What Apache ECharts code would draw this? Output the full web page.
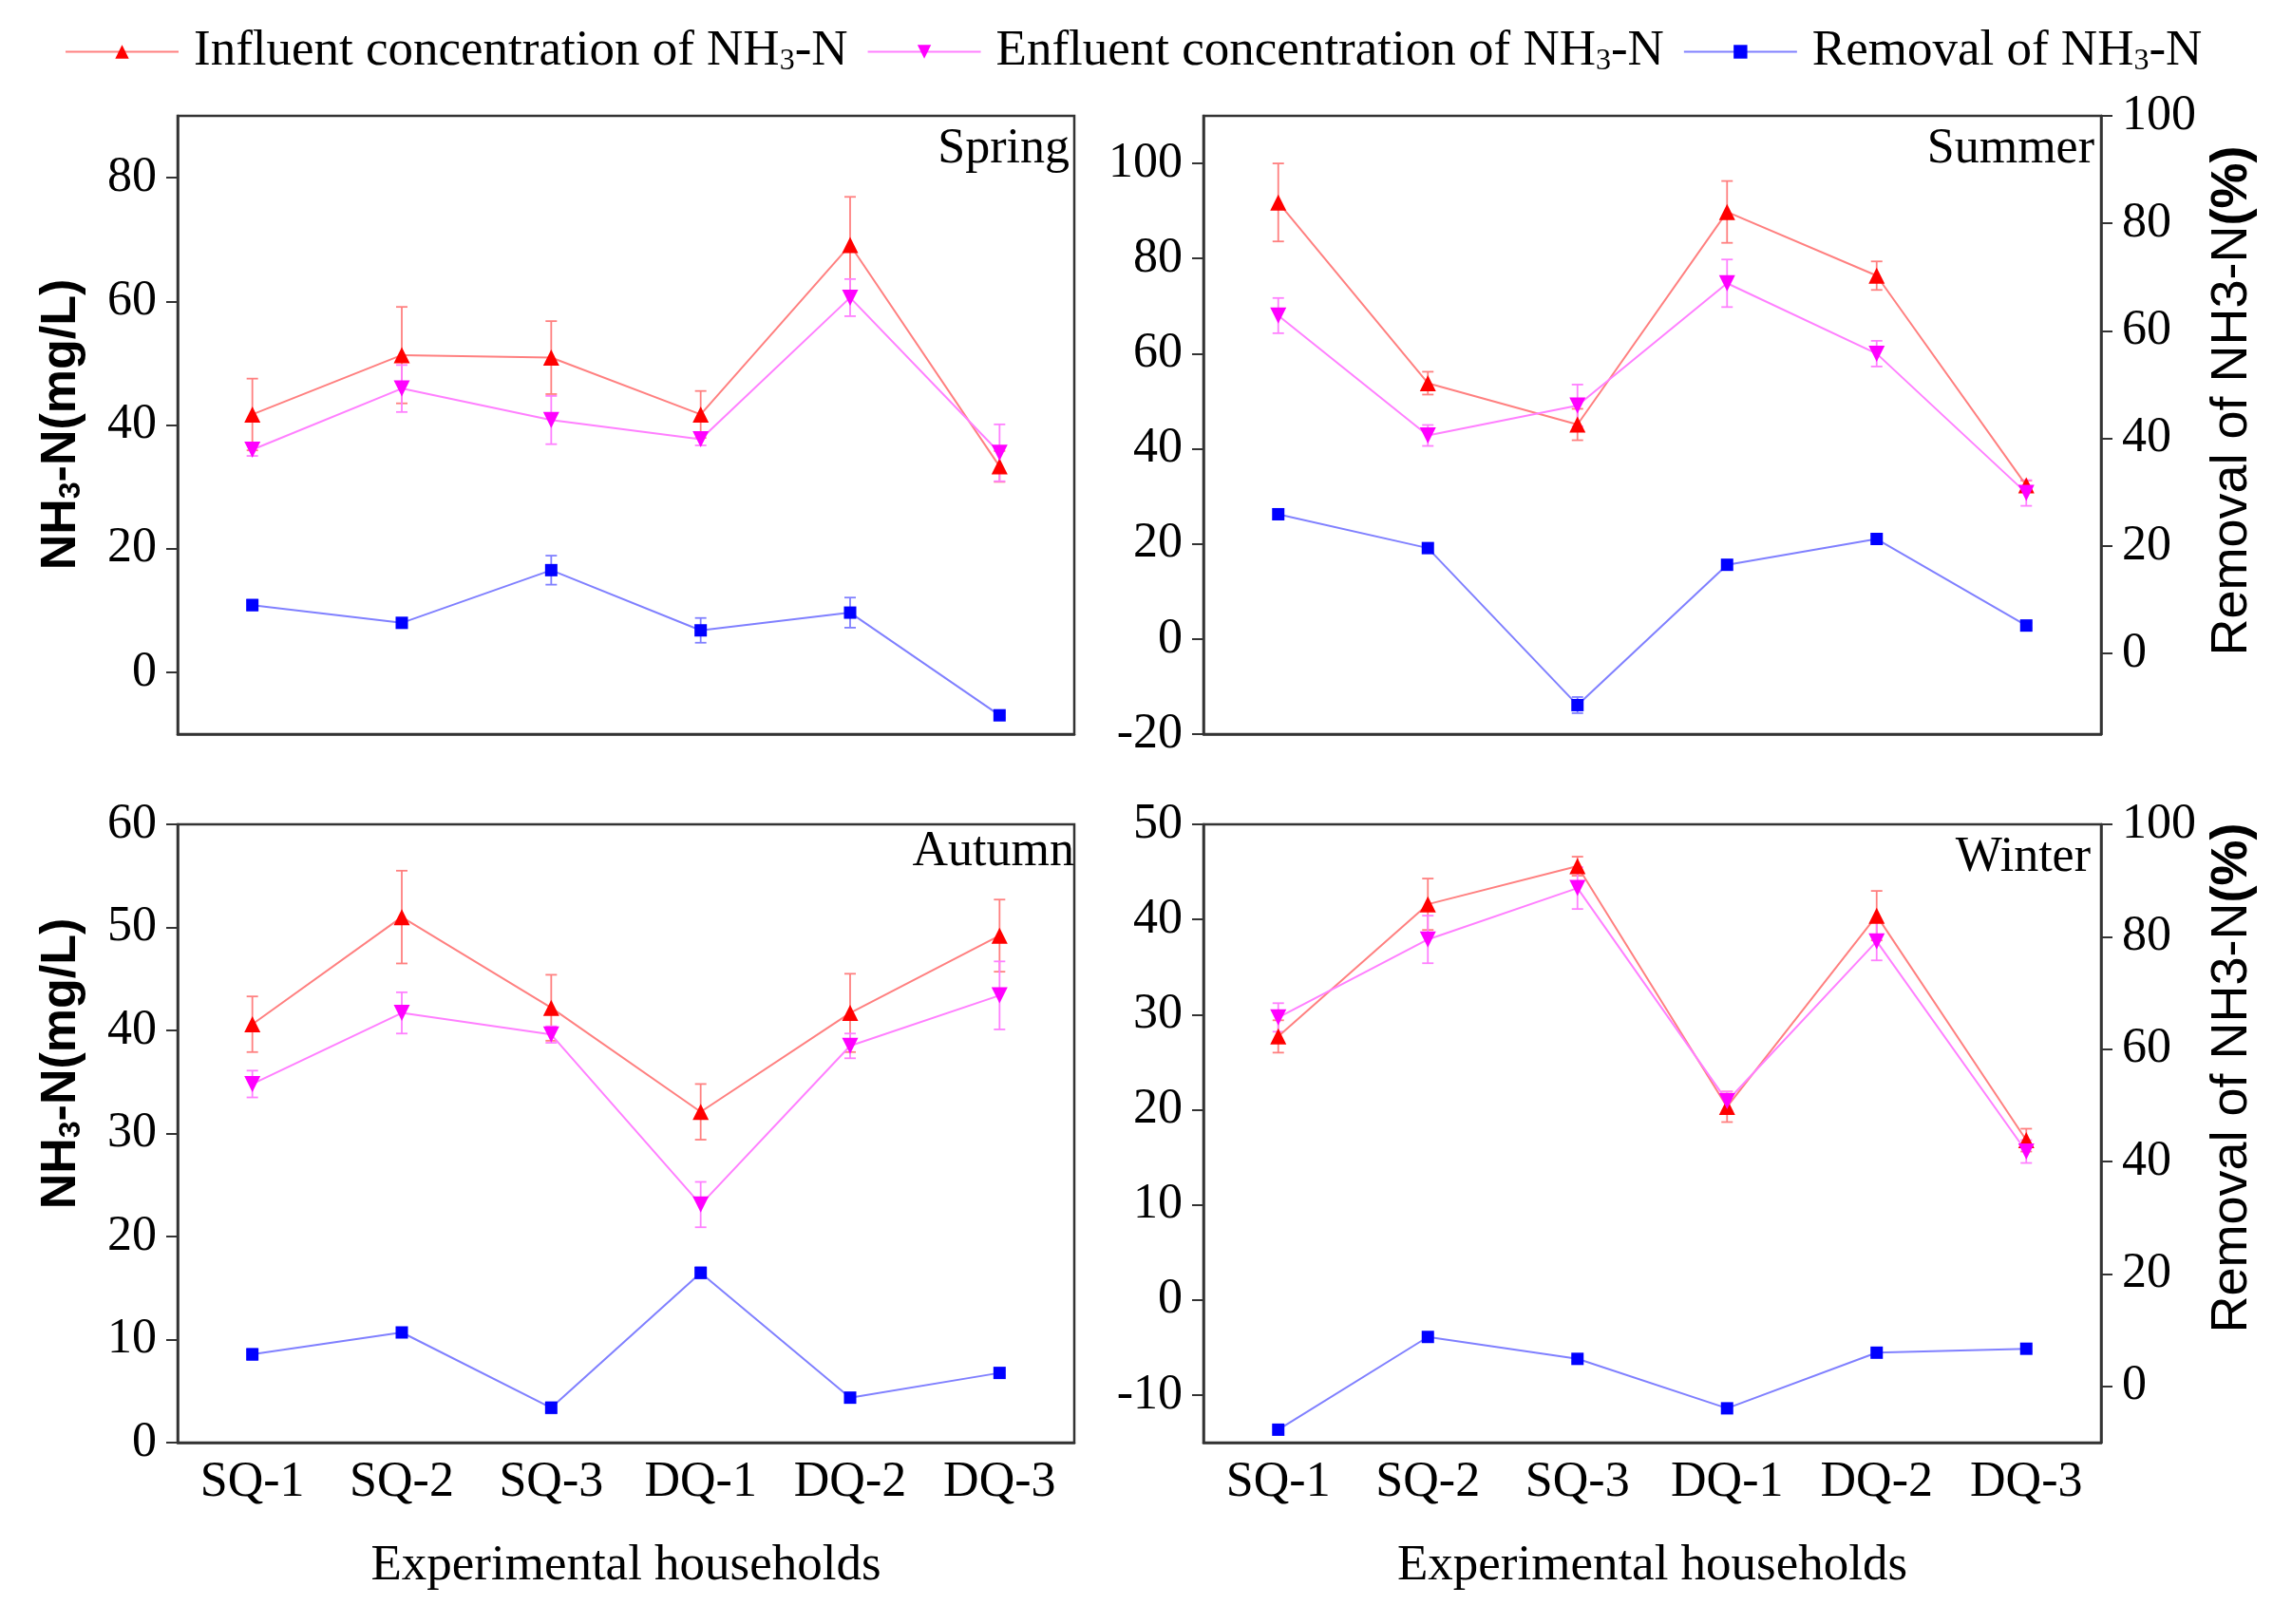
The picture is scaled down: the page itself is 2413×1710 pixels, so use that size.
<!DOCTYPE html>
<html>
<head>
<meta charset="utf-8">
<script src="https://cdn.jsdelivr.net/npm/echarts@6/dist/echarts.min.js"></script>
<style>
  html, body { margin: 0; padding: 0; background: #fff; }
  #main { width: 2413px; height: 1710px; }
</style>
</head>
<body>
<div id="main"></div>
<script>
// households on the x axis
const categories = ['SQ-1', 'SQ-2', 'SQ-3', 'DQ-1', 'DQ-2', 'DQ-3'];

// Spring
const springInfluent = [41.7, 51.3, 50.9, 41.7, 69.1, 33.3];
const springInfluentErr = [5.8, 7.8, 5.9, 3.8, 7.8, 2.5];
const springEffluent = [36.0, 45.9, 40.8, 37.7, 60.6, 35.5];
const springEffluentErr = [1.0, 3.8, 3.9, 1.0, 3.0, 4.6];
const springRemoval = [9.0, 5.7, 15.5, 4.3, 7.6, -11.5];
const springRemovalErr = [1.0, 0.8, 2.7, 2.3, 2.8, 0.5];

// Summer
const summerInfluent = [91.8, 53.8, 45.1, 89.8, 76.4, 32.3];
const summerInfluentErr = [8.2, 2.4, 3.3, 6.5, 3.0, 1.0];
const summerEffluent = [68.0, 42.8, 49.1, 74.8, 60.0, 30.7];
const summerEffluentErr = [3.7, 2.2, 4.4, 5.0, 2.7, 2.7];
const summerRemoval = [25.9, 19.6, -9.6, 16.5, 21.3, 5.2];
const summerRemovalErr = [1.0, 0.8, 1.5, 0.8, 0.6, 0.5];

// Autumn
const autumnInfluent = [40.6, 51.0, 42.2, 32.1, 41.7, 49.2];
const autumnInfluentErr = [2.7, 4.5, 3.2, 2.7, 3.8, 3.5];
const autumnEffluent = [34.8, 41.7, 39.6, 23.1, 38.5, 43.4];
const autumnEffluentErr = [1.3, 2.0, 0.8, 2.2, 1.2, 3.3];
const autumnRemoval = [5.7, 9.6, -3.8, 20.2, -2.0, 2.4];
const autumnRemovalErr = [1.0, 0.5, 1.0, 1.0, 0.4, 0.4];

// Winter
const winterInfluent = [27.7, 41.6, 45.6, 20.3, 40.4, 16.8];
const winterInfluentErr = [1.7, 2.7, 1.0, 1.6, 2.6, 1.2];
const winterEffluent = [29.7, 37.9, 43.3, 20.9, 37.7, 15.6];
const winterEffluentErr = [1.5, 2.5, 2.2, 1.0, 2.0, 1.2];
const winterRemoval = [-7.7, 8.8, 4.9, -3.9, 6.0, 6.7];
const winterRemovalErr = [0.5, 0.5, 0.5, 0.5, 0.5, 0.5];

// tick labels
const springTicks = [0, 20, 40, 60, 80];
const summerTicks = [-20, 0, 20, 40, 60, 80, 100];
const autumnTicks = [0, 10, 20, 30, 40, 50, 60];
const winterTicks = [-10, 0, 10, 20, 30, 40, 50];
const removalTicks = [0, 20, 40, 60, 80, 100];

const seriesNames = [
  'Influent concentration of NH3-N',
  'Enfluent concentration of NH3-N',
  'Removal of NH3-N'
];

const SERIF = '"Liberation Serif", "Times New Roman", serif';
const SANS = '"Liberation Sans", Arial, sans-serif';
const AXIS_COLOR = '#333333';
const lineColors = ['#ff8080', '#ff80ff', '#8080ff'];
const markerColors = ['#ff0000', '#ff00ff', '#0000ff'];
const symbols = ['triangle', 'triangle', 'rect'];
const symbolRotates = [0, 180, 0];
const symbolSizes = [17, 17, 13];

const panels = [
  { title: 'Spring', left: 187, top: 122, width: 944, yMin: -10, yMax: 90, ticks: springTicks,
    rMin: -15, rMax: 100, showRight: false, showCat: false, titleX: 1126, titleY: 157,
    values: [springInfluent, springEffluent, springRemoval],
    errs: [springInfluentErr, springEffluentErr, springRemovalErr] },
  { title: 'Summer', left: 1267, top: 122, width: 945, yMin: -20, yMax: 110, ticks: summerTicks,
    rMin: -15, rMax: 100, showRight: true, showCat: false, titleX: 2205, titleY: 157,
    values: [summerInfluent, summerEffluent, summerRemoval],
    errs: [summerInfluentErr, summerEffluentErr, summerRemovalErr] },
  { title: 'Autumn', left: 187, top: 868, width: 944, yMin: 0, yMax: 60, ticks: autumnTicks,
    rMin: -10, rMax: 100, showRight: false, showCat: true, titleX: 1131, titleY: 897,
    values: [autumnInfluent, autumnEffluent, autumnRemoval],
    errs: [autumnInfluentErr, autumnEffluentErr, autumnRemovalErr] },
  { title: 'Winter', left: 1267, top: 868, width: 945, yMin: -15, yMax: 50, ticks: winterTicks,
    rMin: -10, rMax: 100, showRight: true, showCat: true, titleX: 2201, titleY: 903,
    values: [winterInfluent, winterEffluent, winterRemoval],
    errs: [winterInfluentErr, winterEffluentErr, winterRemovalErr] }
];

const chart = echarts.init(document.getElementById('main'));

// vertical error bar with caps, placed through the axes
const errorBar = (color) => (params, api) => {
  const lo = api.coord([api.value(0), api.value(1)]);
  const hi = api.coord([api.value(0), api.value(2)]);
  const w = 6;
  const style = { stroke: color, lineWidth: 1.8 };
  return {
    type: 'group',
    children: [
      { type: 'line', shape: { x1: lo[0], y1: lo[1], x2: hi[0], y2: hi[1] }, style },
      { type: 'line', shape: { x1: lo[0] - w, y1: lo[1], x2: lo[0] + w, y2: lo[1] }, style },
      { type: 'line', shape: { x1: hi[0] - w, y1: hi[1], x2: hi[0] + w, y2: hi[1] }, style }
    ]
  };
};

const tickLabelStyle = { fontFamily: SERIF, fontSize: 52, color: '#000' };

const grid = [], xAxis = [], yAxis = [], series = [], graphic = [];

panels.forEach((p, i) => {
  grid.push({
    left: p.left, top: p.top, width: p.width, height: 651,
    show: true, borderColor: AXIS_COLOR, borderWidth: 2.5, backgroundColor: 'transparent'
  });

  xAxis.push({
    type: 'category', gridIndex: i, data: categories, boundaryGap: true,
    axisLine: { onZero: false, lineStyle: { color: AXIS_COLOR, width: 2.5 } },
    axisTick: { alignWithLabel: true, length: 12, lineStyle: { color: AXIS_COLOR, width: 2 } },
    axisLabel: Object.assign({ show: p.showCat, margin: 16 }, tickLabelStyle),
    name: p.showCat ? 'Experimental households' : '',
    nameLocation: 'middle', nameGap: 104,
    nameTextStyle: { fontFamily: SERIF, fontSize: 53, color: '#000' }
  });

  yAxis.push({
    type: 'value', gridIndex: i, position: 'left', min: p.yMin, max: p.yMax,
    splitLine: { show: false },
    axisLine: { show: true, onZero: false, lineStyle: { color: AXIS_COLOR, width: 2.5 } },
    axisTick: { show: true, length: 12, customValues: p.ticks, lineStyle: { color: AXIS_COLOR, width: 2 } },
    axisLabel: Object.assign({ margin: 22, customValues: p.ticks }, tickLabelStyle)
  });

  yAxis.push({
    type: 'value', gridIndex: i, position: 'right', min: p.rMin, max: p.rMax,
    show: p.showRight,
    splitLine: { show: false },
    axisLine: { show: true, onZero: false, lineStyle: { color: AXIS_COLOR, width: 2.5 } },
    axisTick: { show: true, length: 12, customValues: removalTicks, lineStyle: { color: AXIS_COLOR, width: 2 } },
    axisLabel: Object.assign({ margin: 22, customValues: removalTicks }, tickLabelStyle)
  });

  p.values.forEach((vals, k) => {
    const yIdx = k === 2 ? 2 * i + 1 : 2 * i;
    const errs = p.errs[k];
    series.push({
      type: 'custom', name: seriesNames[k] + ' err', xAxisIndex: i, yAxisIndex: yIdx,
      data: vals.map((v, j) => [j, v - errs[j], v + errs[j]]),
      encode: { x: 0, y: [1, 2] },
      renderItem: errorBar(lineColors[k]),
      silent: true, z: 2
    });
    series.push({
      type: 'line', name: seriesNames[k], xAxisIndex: i, yAxisIndex: yIdx,
      data: vals,
      symbol: symbols[k], symbolRotate: symbolRotates[k], symbolSize: symbolSizes[k],
      itemStyle: { color: markerColors[k] },
      lineStyle: { color: lineColors[k], width: 2 },
      emphasis: { disabled: true },
      z: 3
    });
  });

  graphic.push({
    type: 'text', x: p.titleX, y: p.titleY, silent: true,
    style: { text: p.title, fontFamily: SERIF, fontSize: 52, fill: '#000', align: 'right', verticalAlign: 'middle' }
  });
});

// axis titles, rotated
const leftTitle = (x, y) => ({
  type: 'text', x, y, rotation: Math.PI / 2, silent: true,
  style: {
    text: 'NH{sub|3}-N(mg/L)', fontFamily: SANS, fontWeight: 'bold', fontSize: 52, fill: '#000',
    align: 'center', verticalAlign: 'middle',
    rich: { sub: { fontFamily: SANS, fontWeight: 'bold', fontSize: 32, lineHeight: 12, verticalAlign: 'bottom', fill: '#000' } }
  }
});
const rightTitle = (x, y) => ({
  type: 'text', x, y, rotation: Math.PI / 2, silent: true,
  style: {
    text: 'Removal of NH3-N{b|(%)}', fontFamily: SANS, fontSize: 54, fill: '#000',
    align: 'center', verticalAlign: 'middle',
    rich: { b: { fontFamily: SANS, fontWeight: 'bold', fontSize: 54, fill: '#000' } }
  }
});
graphic.push(leftTitle(65, 447), leftTitle(65, 1120), rightTitle(2350, 422), rightTitle(2350, 1135));

const option = {
  animation: false,
  backgroundColor: '#fff',
  legend: {
    data: seriesNames,
    left: 63, top: 23,
    itemWidth: 119, itemHeight: 18, itemGap: 20,
    formatter: (name) => name.replace('NH3', 'NH{sub|3}'),
    textStyle: {
      fontFamily: SERIF, fontSize: 53, color: '#000', padding: [0, 0, 0, 11],
      rich: { sub: { fontFamily: SERIF, fontSize: 32, lineHeight: 11, verticalAlign: 'bottom', color: '#000' } }
    }
  },
  grid,
  xAxis,
  yAxis,
  series,
  graphic
};

chart.setOption(option);
window.addEventListener('resize', () => chart.resize());
</script>
</body>
</html>
